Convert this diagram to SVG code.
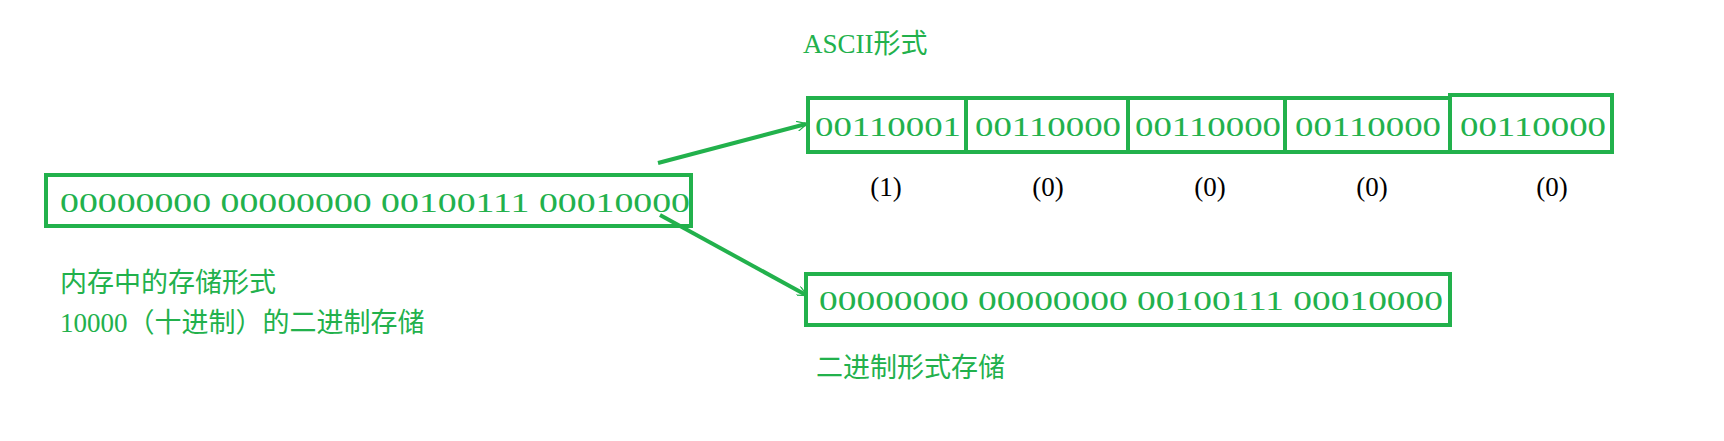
<svg xmlns="http://www.w3.org/2000/svg" width="1724" height="441" viewBox="0 0 1724 441">
<style>
.b{fill:none;stroke:#22b14c;stroke-width:4}
.t{fill:#22b14c;font-family:"Liberation Serif","Noto Sans CJK SC",serif;font-size:27px}
.k{fill:#000;font-family:"Liberation Serif",serif;font-size:27px;text-anchor:middle}
.c{stroke:#22b14c;stroke-width:4;fill:none}
</style>
<defs><marker id="a" markerWidth="10" markerHeight="10" refX="9" refY="5" orient="auto" markerUnits="userSpaceOnUse" viewBox="0 0 10 10"><path d="M0,0 L10,5 L0,10" fill="none" stroke="#22b14c" stroke-width="1.2"/></marker></defs>
<rect width="1724" height="441" fill="#fff"/>
<g id="mem"><rect class="b" x="46" y="175" width="645" height="51"/><text class="t" x="60" y="212" textLength="630" lengthAdjust="spacingAndGlyphs">00000000 00000000 00100111 00010000</text>
<text class="t" x="60" y="292">内存中的存储形式</text><text class="t" x="60" y="332">10000（十进制）的二进制存储</text></g>
<g id="ascii"><text class="t" x="803" y="53">ASCII形式</text>
<rect class="b" x="808" y="98" width="158" height="54"/><rect class="b" x="966" y="98" width="162" height="54"/><rect class="b" x="1128" y="98" width="157" height="54"/><rect class="b" x="1285" y="98" width="165" height="54"/><rect class="b" x="1450" y="95" width="162" height="57"/>
<text class="t" x="815" y="136" textLength="146" lengthAdjust="spacingAndGlyphs">00110001</text>
<text class="t" x="975" y="136" textLength="146" lengthAdjust="spacingAndGlyphs">00110000</text>
<text class="t" x="1135" y="136" textLength="146" lengthAdjust="spacingAndGlyphs">00110000</text>
<text class="t" x="1295" y="136" textLength="146" lengthAdjust="spacingAndGlyphs">00110000</text>
<text class="t" x="1460" y="136" textLength="146" lengthAdjust="spacingAndGlyphs">00110000</text>
<text class="k" x="886" y="196">(1)</text><text class="k" x="1048" y="196">(0)</text><text class="k" x="1210" y="196">(0)</text><text class="k" x="1372" y="196">(0)</text><text class="k" x="1552" y="196">(0)</text></g>
<g id="bin"><rect class="b" x="806" y="274" width="644" height="51"/><text class="t" x="819" y="310" textLength="624" lengthAdjust="spacingAndGlyphs">00000000 00000000 00100111 00010000</text>
<text class="t" x="816" y="377">二进制形式存储</text></g>
<g id="connectors"><path class="c" d="M658,163 L806,124" marker-end="url(#a)"/><path class="c" d="M660,215 L806,295" marker-end="url(#a)"/></g>
</svg>
